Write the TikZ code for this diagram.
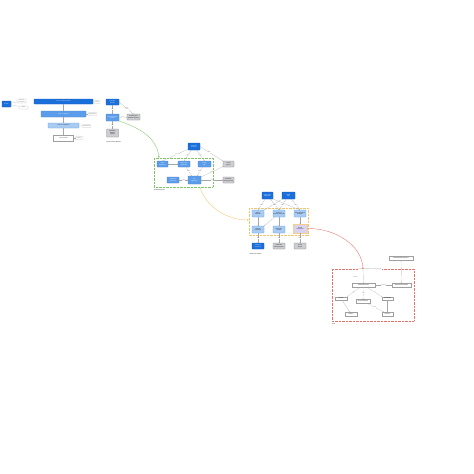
\documentclass[tikz,border=0pt]{standalone}
\usepackage{fontspec}
\setmainfont{Liberation Sans}
\usetikzlibrary{arrows.meta}
\definecolor{cdark}{HTML}{1A6FDB}
\definecolor{cmed}{HTML}{5C9DEB}
\definecolor{clight}{HTML}{A9CBF3}
\definecolor{cext}{HTML}{CDCED2}
\definecolor{cgreen}{HTML}{7FC466}
\definecolor{corange}{HTML}{F3C36B}
\definecolor{cred}{HTML}{E8706A}
\definecolor{clav}{HTML}{D9D3F2}
\tikzset{
  x=1pt,y=-1pt,
  every node/.style={inner sep=0pt,outer sep=0pt,align=center,font=\fontsize{1.3}{1.5}\selectfont},
  pbox/.style={fill=cdark,draw=cdark!80!black,line width=0.15pt,text=white,rounded corners=0.4pt},
  cbox/.style={fill=cmed,draw=cmed!80!black,line width=0.15pt,text=white,rounded corners=0.4pt},
  lbox/.style={fill=clight,draw=cmed,line width=0.15pt,text=black,rounded corners=0.4pt},
  ebox/.style={fill=cext,draw=gray,line width=0.15pt,text=black,rounded corners=0.4pt},
  wbox/.style={fill=white,draw=gray!75,line width=0.18pt,text=black},
  notebox/.style={fill=white,draw=gray!50,line width=0.15pt,text=gray!70!black,rounded corners=0.3pt},
  conn/.style={draw=gray!70,line width=0.15pt,-{Stealth[length=0.8pt,width=0.6pt]}},
  dconn/.style={draw=gray!70,line width=0.15pt,dash pattern=on 0.6pt off 0.4pt,-{Stealth[length=0.8pt,width=0.6pt]}},
  lab/.style={fill=white,text=gray!60!black,font=\fontsize{1}{1.2}\selectfont},
  captext/.style={anchor=west,text=black,font=\fontsize{1.3}{1.5}\selectfont},
  bound/.style={line width=0.3pt,dash pattern=on 0.8pt off 0.6pt},
  zoomcurve/.style={line width=0.35pt,-{Stealth[length=2pt,width=1.6pt]}}
}
\begin{document}
\begin{tikzpicture}
\useasboundingbox (0,0) rectangle (474,474);
\fill[white] (0,0) rectangle (474,474);

% ---------------- Left overview ----------------
\node[pbox,minimum width=9pt,minimum height=6pt] (person0) at (6.5,104) {Person};
\node[notebox,minimum width=9pt,minimum height=4pt] (n0a) at (21.5,101) {Users of\\the system};
\node[notebox,minimum width=9pt,minimum height=3pt] (n0b) at (23.5,107.5) {Roles};
\draw[dconn,-] (person0) -- (n0a);
\draw[dconn,-] (person0) -- (n0b);

\node[pbox,minimum width=59pt,minimum height=5pt] (L1) at (63.5,101.5) {Level 1: System Context};
\node[cbox,minimum width=45pt,minimum height=6pt] (L2) at (63.5,114) {Level 2: Container};
\node[lbox,minimum width=31pt,minimum height=5pt] (L3) at (63.5,125.5) {Level 3: Component};
\node[wbox,minimum width=20pt,minimum height=6pt] (L4) at (63.5,138) {Level 4: Code};
\draw[conn] (L1) -- (L2);
\draw[conn] (L2) -- (L3);
\draw[conn] (L3) -- (L4);
\node[notebox,minimum width=6pt,minimum height=2.5pt] (n1) at (97,102) {Scope};
\node[notebox,minimum width=9pt,minimum height=2.5pt] (n2) at (92.5,114) {Applications};
\node[notebox,minimum width=9pt,minimum height=2.5pt] (n3) at (86.5,126) {Components};
\node[notebox,minimum width=8pt,minimum height=2.5pt] (n4) at (79,138) {Classes};
\draw[dconn,-] (L1) -- (n1);
\draw[dconn,-] (L2) -- (n2);
\draw[dconn,-] (L3) -- (n3);
\draw[dconn,-] (L4) -- (n4);

% ---------------- System context ----------------
\node[pbox,minimum width=13pt,minimum height=6pt] (scp) at (112.5,102) {Customer\\{[Person]}};
\node[cbox,minimum width=13pt,minimum height=7pt] (scs) at (112.5,117.5) {Internet Banking\\System};
\node[ebox,minimum width=13pt,minimum height=6pt] (sce) at (133.5,117) {E-mail System\\{[Software System]}};
\node[ebox,minimum width=12pt,minimum height=8pt] (scm) at (112.5,133) {Mainframe\\Banking\\System};
\draw[conn] (scp) -- node[lab] {Uses} (scs);
\draw[conn] (scp.east) -- node[lab,pos=0.55] {Sends\\e-mails} (sce.north);
\draw[dconn] (scs) -- node[lab] {Uses} (sce);
\draw[conn] (scs) -- node[lab] {Uses} (scm);
\node[captext] (capsc) at (106.5,142.3) {System Context Diagram};

% ---------------- Container ----------------
\node[pbox,minimum width=12pt,minimum height=7pt] (ctp) at (194,146.5) {Customer\\{[Person]}};
\draw[bound,cgreen] (154,158) rectangle (213,187);
\coordinate (ctbtop) at (159,158);
\coordinate (ctbbot) at (200,187);
\node[cbox,minimum width=11pt,minimum height=6pt] (cta) at (162.5,164) {Web\\Application};
\node[cbox,minimum width=12pt,minimum height=6pt] (ctb) at (184,164) {Single-Page\\Application};
\node[cbox,minimum width=13pt,minimum height=6pt] (ctc) at (204.5,164) {Mobile\\App};
\node[cbox,minimum width=12pt,minimum height=6pt] (ctd) at (173,180) {Database\\{[Container]}};
\node[cbox,minimum width=13pt,minimum height=8pt] (cte) at (194.5,180) {API\\Application};
\node[ebox,minimum width=11pt,minimum height=6pt] (ctx1) at (228.5,164) {E-mail\\System};
\node[ebox,minimum width=11pt,minimum height=6pt] (ctx2) at (228.5,180) {Mainframe\\Banking System};
\draw[conn] (ctp) -- node[lab,pos=0.45] {Visits} (cta.north);
\draw[conn] (ctp) -- node[lab,pos=0.45] {Views} (ctb.north);
\draw[conn] (ctp) -- node[lab,pos=0.45] {Views} (ctc.north);
\draw[conn] (ctp.east) -- node[lab,pos=0.4] {Sends} (ctx1.north west);
\draw[conn] (cta) -- (ctb);
\draw[conn] (ctb) -- node[lab] {Makes} (cte);
\draw[conn] (ctc) -- node[lab] {Makes} (cte);
\draw[conn] (cte) -- node[lab] {Reads} (ctd);
\draw[conn] (cte) -- node[lab] {Uses} (ctx2);
\draw[conn] (cte) -- node[lab] {Sends} (ctx1);
\node[captext] (capct) at (154,190) {Container Diagram};

% ---------------- Component ----------------
\node[pbox,minimum width=11pt,minimum height=7pt] (cpt1) at (267.5,195.5) {Single-Page\\Application};
\node[pbox,minimum width=13pt,minimum height=7pt] (cpt2) at (288.5,195.5) {Mobile\\App};
\draw[bound,corange] (249,208) rectangle (308,235);
\coordinate (cpbleft) at (249,220);
\node[lbox,minimum width=12pt,minimum height=7pt] (r1a) at (258,213.5) {Sign In\\Controller};
\node[lbox,minimum width=12pt,minimum height=7pt] (r1b) at (279,213.5) {Accounts\\Summary Controller};
\node[lbox,minimum width=12pt,minimum height=7pt] (r1c) at (300,213.5) {Reset Password\\Controller};
\node[lbox,minimum width=12pt,minimum height=7pt] (r2a) at (258,229.5) {Security\\Component};
\node[lbox,minimum width=12pt,minimum height=7pt] (r2b) at (279,229.5) {Mainframe\\Facade};
\node[fill=clav,draw=corange!80,line width=0.2pt,dash pattern=on 0.6pt off 0.4pt,minimum width=14pt,minimum height=9pt] (r2c) at (300,228.5) {E-mail\\Component};
\node[pbox,minimum width=12pt,minimum height=6pt] (b1) at (258,246) {Database\\{[Container]}};
\node[ebox,minimum width=12pt,minimum height=6pt] (b2) at (279,246) {Mainframe\\Banking System};
\node[ebox,minimum width=12pt,minimum height=6pt] (b3) at (300,246) {E-mail\\System};
\draw[conn] (cpt1) -- node[lab,pos=0.55] {JSON} (r1a.north);
\draw[conn] (cpt1) -- node[lab,pos=0.55] {JSON} (r1b.north);
\draw[conn] (cpt1.south east) -- (r1c.north);
\draw[conn] (cpt2) -- (r1a.north east);
\draw[conn] (cpt2) -- node[lab,pos=0.55] {JSON} (r1b.north);
\draw[conn] (cpt2) -- node[lab,pos=0.55] {JSON} (r1c.north);
\draw[conn] (r1a) -- (r2a);
\draw[conn] (r1b) -- (r2a.north east);
\draw[conn] (r1b) -- (r2b);
\draw[conn] (r1c) -- (r2c);
\draw[conn] (r2a) -- node[lab] {SQL} (b1);
\draw[conn] (r2b) -- node[lab] {XML} (b2);
\draw[conn] (r2c) -- node[lab] {SMTP} (b3);
\node[captext] (capcp) at (249.5,254) {Component Diagram};

% ---------------- Code ----------------
\draw[bound,cred] (332,269) rectangle (414,321);
\coordinate (cdbtop) at (363,269.5);
\node[fill=white,text=gray!60!black,font=\fontsize{1}{1.2}\selectfont] (pkg) at (370,269) {com.bigbank.internetbanking.component.mainframe};
\node[wbox,minimum width=24pt,minimum height=4pt] (cdt) at (401,258) {MainframeBankingSystem};
\node[text=gray!60!black,font=\fontsize{1}{1.2}\selectfont] (iface) at (355.5,277) {«interface»};
\node[wbox,minimum width=23pt,minimum height=4pt] (cda) at (363.5,285) {MainframeFacade};
\node[wbox,minimum width=19pt,minimum height=4pt] (cdb) at (401.5,285) {MainframeFacadeImpl};
\node[wbox,minimum width=12pt,minimum height=3.5pt] (cdc) at (341,298.5) {Account};
\node[wbox,minimum width=14pt,minimum height=4pt] (cdd) at (363,301) {AccountSummary};
\node[wbox,minimum width=11pt,minimum height=3.5pt] (cde) at (387.5,298.5) {Transaction};
\node[wbox,minimum width=12pt,minimum height=4pt] (cdf) at (351,314) {Balance};
\node[wbox,minimum width=11pt,minimum height=4pt] (cdg) at (387.5,314) {Currency};
\draw[conn] (cdt) -- (cdb);
\draw[dconn] (cdb) -- node[lab] {implements} (cda);
\draw[conn] (cdbtop) -- (cda);
\draw[dconn] (cda) -- node[lab] {uses} (cdc.north east);
\draw[dconn] (cda) -- node[lab] {uses} (cdd);
\draw[dconn] (cda) -- node[lab] {uses} (cde.north west);
\draw[conn] (cdc) -- (cdf);
\draw[dconn] (cdd) -- node[lab] {has} (cdg);
\draw[conn] (cde) -- (cdg);
\node[captext] (capcd) at (332,324) {Code};

% ---------------- Zoom curves ----------------
\draw[zoomcurve,cgreen] (scs.south east) .. controls (140,128) and (157,138) .. (ctbtop);
\draw[zoomcurve,corange] (ctbbot) .. controls (205,205) and (225,220) .. (cpbleft);
\draw[zoomcurve,cred] (r2c.east) .. controls (335,228) and (362,245) .. (cdbtop);
\end{tikzpicture}
\end{document}
